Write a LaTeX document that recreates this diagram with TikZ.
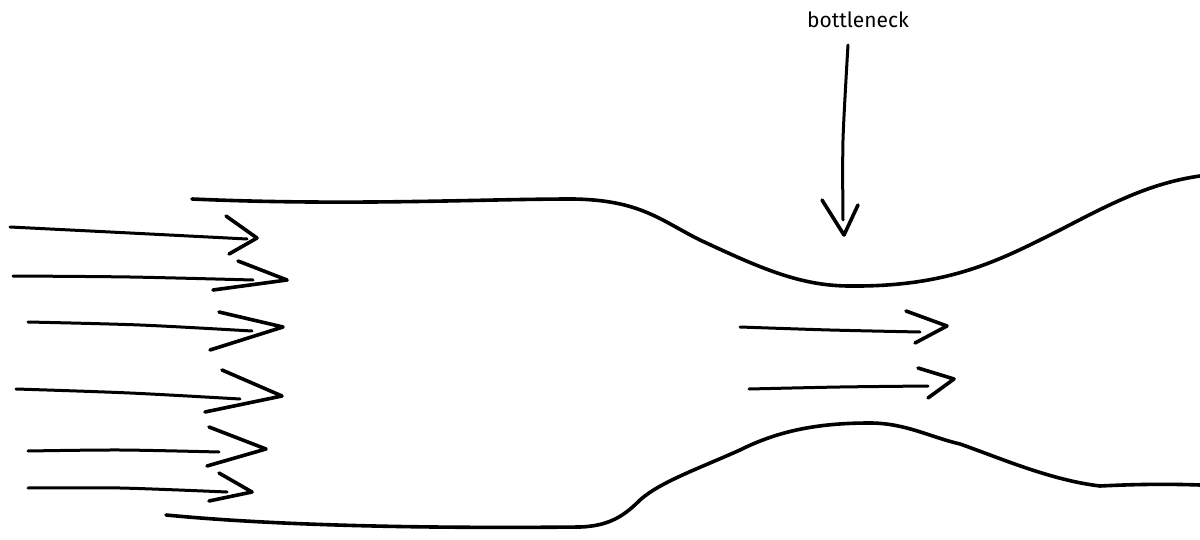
\documentclass[tikz,border=0pt]{standalone}
\usepackage{fontspec}
\setmainfont{Fira Sans}
\begin{document}
\begin{tikzpicture}[x=0.5pt,y=-0.5pt,
  wall/.style={line width=1.8pt,line cap=round,line join=round},
  shaft/.style={line width=1.5pt,line cap=round,line join=round},
  chev/.style={line width=1.8pt,line cap=round,line join=round}]
\useasboundingbox[fill=white] (0,0) rectangle (1200,540);
% top wall
\draw[wall] (192,199) .. controls (350,206) and (480,199) .. (573,199)
  .. controls (640,200) and (660,220) .. (700,240)
  .. controls (760,268) and (800,286) .. (850,286)
  .. controls (950,287) and (1000,260) .. (1060,230)
  .. controls (1110,204) and (1150,183) .. (1200,176);
% bottom wall
\draw[wall] (166,515) .. controls (300,528) and (480,528) .. (580,527)
  .. controls (610,526) and (625,515) .. (640,500)
  .. controls (660,482) and (700,468) .. (740,450)
  .. controls (780,430) and (820,423) .. (870,423)
  .. controls (905,423) and (930,437) .. (960,444)
  .. controls (1000,458) and (1050,480) .. (1100,486)
  .. controls (1140,484) and (1170,484) .. (1200,485);
% left arrows
\draw[shaft] plot[smooth] coordinates {(10,227) (130,233) (247,239)};
\draw[chev] (226,216) -- (257,238) -- (229,254);
\draw[shaft] plot[smooth] coordinates {(13,276) (130,277) (253,280)};
\draw[chev] (238,261) -- (287,280) -- (213,290);
\draw[shaft] plot[smooth] coordinates {(28,322) (140,325) (252,331)};
\draw[chev] (219,312) -- (283,327) -- (210,350);
\draw[shaft] plot[smooth] coordinates {(16,389) (130,393) (240,399)};
\draw[chev] (222,370) -- (282,396) -- (205,412);
\draw[shaft] plot[smooth] coordinates {(28,451) (120,450) (219,452)};
\draw[chev] (209,427) -- (266,449) -- (207,466);
\draw[shaft] plot[smooth] coordinates {(28,488) (120,488) (227,492)};
\draw[chev] (219,473) -- (252,492) -- (209,501);
% right arrows
\draw[shaft] plot[smooth] coordinates {(740,327) (830,330) (920,332)};
\draw[chev] (906,311) -- (947,326) -- (915,343);
\draw[shaft] plot[smooth] coordinates {(749,389) (840,387) (928,386)};
\draw[chev] (918,368) -- (954,379) -- (928,398);
% bottleneck arrow
\draw[shaft] plot[smooth] coordinates {(848,45) (843,140) (843,220)};
\draw[chev] (822,200) -- (844,235) -- (858,205);
\node[font=\fontsize{10.5}{12}\selectfont] (lbl) at (858,20) {bottleneck};
\end{tikzpicture}
\end{document}
